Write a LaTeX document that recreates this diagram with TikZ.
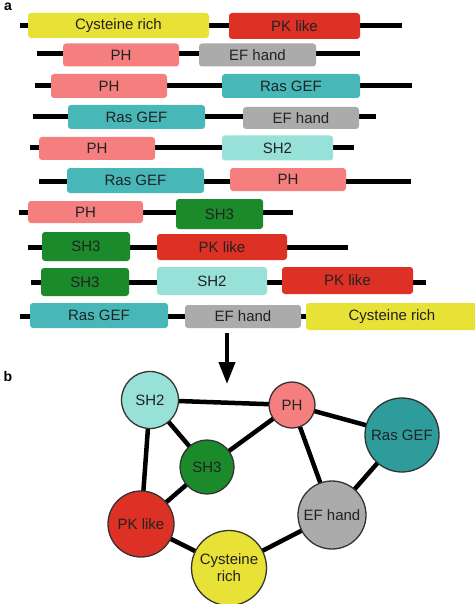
\documentclass[tikz,border=0pt]{standalone}
\usepackage{fontspec}
\setmainfont{Liberation Sans}
\usetikzlibrary{arrows.meta,backgrounds}
\definecolor{cCys}{HTML}{E8E236}
\definecolor{cPK}{HTML}{DC3124}
\definecolor{cPH}{HTML}{F57F7F}
\definecolor{cEF}{HTML}{ABABAB}
\definecolor{cRas}{HTML}{47B7B7}
\definecolor{cSHtwo}{HTML}{97E1D9}
\definecolor{cSHthree}{HTML}{1A8A2A}
\definecolor{nRas}{HTML}{2F9C9C}
\definecolor{txt}{HTML}{222222}
\tikzset{
  dom/.style={rounded corners=3pt, inner sep=0pt, text=txt, font=\fontsize{15}{15}\selectfont},
  bb/.style={line width=5pt, black},
  net/.style={circle, draw=black!80, line width=1.3pt, inner sep=0pt, text=txt, align=center, font=\fontsize{15}{17}\selectfont},
  edge/.style={line width=4.5pt, black},
  lab/.style={font=\bfseries\fontsize{14}{14}\selectfont, anchor=center}
}
\newcommand{\dombox}[6]{% name, cx, cy, w, h, color + text
  \node[dom, fill=#6, minimum width=#4pt, minimum height=#5pt] (#1) at (#2,#3)}
\begin{document}
\begin{tikzpicture}[x=1pt,y=-1pt]
\useasboundingbox (0,0) rectangle (474,604);
\node[lab] (la) at (8,7) {a};
\node[lab] (lb) at (8,376) {b};
% backbones
\foreach \n/\xa/\xb/\yy in {1/20/402/26, 2/37/360/54, 3/35/412/86, 4/33/376/117, 5/30/354/148, 6/39/411/181, 7/19/293/212, 8/28/348/247, 9/31/426/282, 10/20/480/316}{
  \coordinate (s\n) at (\xa,\yy);
  \coordinate (e\n) at (\xb,\yy);
  \draw[bb] (s\n) -- (e\n);
}
% row 1
\dombox{r1a}{118.5}{25.5}{181}{25}{cCys} {Cysteine rich};
\dombox{r1b}{294.5}{26}{131}{26}{cPK} {PK like};
% row 2
\dombox{r2a}{121}{55}{116}{23}{cPH} {PH};
\dombox{r2b}{257.5}{55}{117}{23}{cEF} {EF hand};
% row 3
\dombox{r3a}{109}{86}{116}{24}{cPH} {PH};
\dombox{r3b}{291}{86}{138}{24}{cRas} {Ras GEF};
% row 4
\dombox{r4a}{136.5}{117}{137}{24}{cRas} {Ras GEF};
\dombox{r4b}{301}{118}{116}{22}{cEF} {EF hand};
% row 5
\dombox{r5a}{97}{148.5}{116}{23}{cPH} {PH};
\dombox{r5b}{277.5}{148}{111}{25}{cSHtwo} {SH2};
% row 6
\dombox{r6a}{135.5}{180.5}{137}{25}{cRas} {Ras GEF};
\dombox{r6b}{288}{179.5}{116}{23}{cPH} {PH};
% row 7
\dombox{r7a}{85.5}{212}{115}{22}{cPH} {PH};
\dombox{r7b}{219.5}{214}{87}{30}{cSHthree} {SH3};
% row 8
\dombox{r8a}{86}{246.5}{88}{29}{cSHthree} {SH3};
\dombox{r8b}{222}{247}{130}{26}{cPK} {PK like};
% row 9
\dombox{r9a}{85}{282}{88}{28}{cSHthree} {SH3};
\dombox{r9b}{212}{281}{110}{28}{cSHtwo} {SH2};
\dombox{r9c}{347.5}{280.5}{131}{27}{cPK} {PK like};
% row 10
\dombox{r10a}{99}{315.5}{138}{25}{cRas} {Ras GEF};
\dombox{r10b}{243}{316.5}{116}{23}{cEF} {EF hand};
\dombox{r10c}{392}{316.5}{172}{27}{cCys} {Cysteine rich};
% arrow
\coordinate (as) at (227,333);
\coordinate (ae) at (227,384);
\draw[line width=4pt, -{Triangle[length=22pt,width=16pt]}] (as) -- (ae);
% network
\node[net, fill=cSHtwo, minimum size=57pt] (nSH2) at (150,400) {SH2};
\node[net, fill=cPH, minimum size=46pt] (nPH) at (292,405) {PH};
\node[net, fill=nRas, minimum size=74pt] (nRas) at (402,435) {Ras GEF};
\node[net, fill=cSHthree, minimum size=54pt] (nSH3) at (207,467) {SH3};
\node[net, fill=cPK, minimum size=66pt] (nPK) at (141,524) {PK like};
\node[net, fill=cEF, minimum size=68pt] (nEF) at (332,515) {EF hand};
\node[net, fill=cCys, minimum size=75pt] (nCys) at (229,568) {Cysteine\\rich};
\begin{pgfonlayer}{background}
\draw[edge] (nSH2.center) -- (nPH.center);
\draw[edge] (nSH2.center) -- (nSH3.center);
\draw[edge] (nSH2.center) -- (nPK.center);
\draw[edge] (nSH3.center) -- (nPH.center);
\draw[edge] (nSH3.center) -- (nPK.center);
\draw[edge] (nPH.center) -- (nRas.center);
\draw[edge] (nPH.center) -- (nEF.center);
\draw[edge] (nRas.center) -- (nEF.center);
\draw[edge] (nEF.center) -- (nCys.center);
\draw[edge] (nPK.center) -- (nCys.center);
\end{pgfonlayer}
\end{tikzpicture}
\end{document}
